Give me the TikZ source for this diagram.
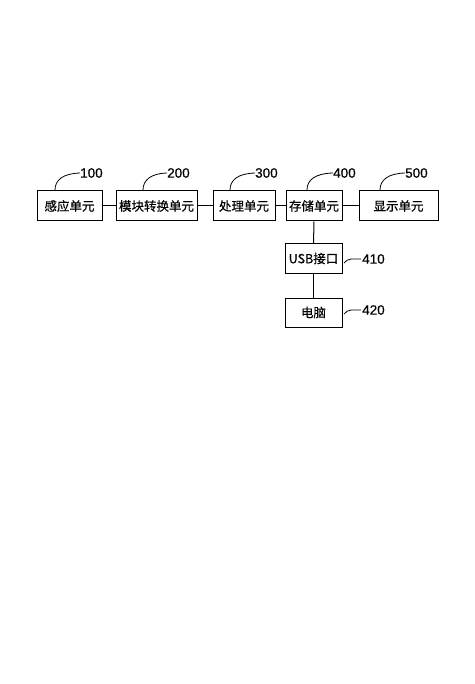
\documentclass[tikz,border=0pt]{standalone}
\usepackage{fontspec}
\newfontfamily\cjk[FakeBold=0.6]{Noto Sans CJK SC}
\newfontfamily\numf[FakeBold=0.4]{Liberation Sans}
\begin{document}
\begin{tikzpicture}[x=1pt,y=-1pt,
  box/.style={draw,line width=1pt,inner sep=0pt,minimum height=30pt,font=\cjk\fontsize{12.5}{13}\selectfont},
  lbl/.style={anchor=west,inner sep=0pt,font=\numf\fontsize{13.5}{14}\selectfont},
  wire/.style={line width=1pt},
  lead/.style={line width=0.8pt}]
\useasboundingbox (0,0) rectangle (474,684);
\node[box,minimum width=65pt] (b1) at (69.5,206) {感应单元};
\node[box,minimum width=81pt] (b2) at (156.5,206) {模块转换单元};
\node[box,minimum width=62pt] (b3) at (244,206) {处理单元};
\node[box,minimum width=56pt] (b4) at (314,206) {存储单元};
\node[box,minimum width=79pt] (b5) at (398.5,206) {显示单元};
\node[box,minimum width=57pt,minimum height=29pt] (usb) at (313.5,258.5) {USB接口};
\node[box,minimum width=57pt,minimum height=29pt] (pc) at (313.5,312.5) {电脑};
\draw[wire] (b1) -- (b2);
\draw[wire] (b2) -- (b3);
\draw[wire] (b3) -- (b4);
\draw[wire] (b4) -- (b5);
\draw[wire] (b4) -- (usb);
\draw[wire] (usb) -- (pc);
\node[lbl] (l1) at (80,173) {100};
\node[lbl] (l2) at (167,173) {200};
\node[lbl] (l3) at (255,173) {300};
\node[lbl] (l4) at (333,173) {400};
\node[lbl] (l5) at (405,173) {500};
\node[lbl] (l6) at (362,259) {410};
\node[lbl] (l7) at (362,310) {420};
\coordinate (s1) at (55,190);
\coordinate (s2) at (143,190);
\coordinate (s3) at (230,190);
\coordinate (s4) at (307,190);
\coordinate (s5) at (380,190);
\draw[lead] (s1) .. controls (55,180) and (63,173.5) .. (l1.west);
\draw[lead] (s2) .. controls (143,180) and (151,173.5) .. (l2.west);
\draw[lead] (s3) .. controls (230,180) and (238,173.5) .. (l3.west);
\draw[lead] (s4) .. controls (307,180) and (315,173.5) .. (l4.west);
\draw[lead] (s5) .. controls (380,180) and (388,173.5) .. (l5.west);
\coordinate (s6) at (344,263);
\coordinate (s7) at (344,314);
\draw[lead] (s6) .. controls (348,258) and (352,259) .. ([xshift=-1pt]l6.west);
\draw[lead] (s7) .. controls (348,309) and (352,310) .. ([xshift=-1pt]l7.west);
\end{tikzpicture}
\end{document}
